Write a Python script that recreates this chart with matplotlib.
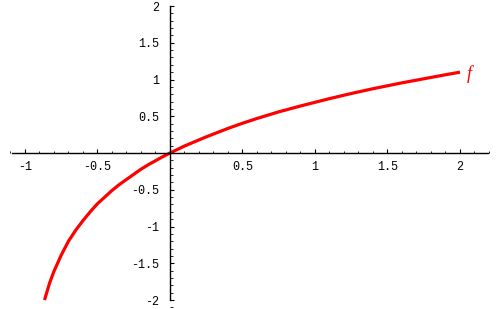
import numpy as np
import matplotlib.pyplot as plt
from matplotlib.ticker import MultipleLocator, FixedLocator

# values
xs = [-0.865, -0.85, -0.83, -0.8, -0.75, -0.7, -0.65, -0.6, -0.55, -0.5, -0.45,
      -0.4, -0.35, -0.3, -0.25, -0.2, -0.15, -0.1, -0.05, 0.0, 0.1, 0.25, 0.4,
      0.5, 0.6, 0.75, 0.9, 1.0, 1.1, 1.25, 1.4, 1.5, 1.6, 1.75, 1.9, 2.0]
ys = [-2.0, -1.9, -1.77, -1.61, -1.39, -1.2, -1.05, -0.92, -0.8, -0.69, -0.6,
      -0.51, -0.43, -0.36, -0.29, -0.22, -0.16, -0.105, -0.05, 0.0, 0.095, 0.22,
      0.335, 0.405, 0.47, 0.56, 0.64, 0.69, 0.74, 0.81, 0.875, 0.915, 0.955,
      1.01, 1.065, 1.1]
curve_label = "f"

xticks = [-1, -0.5, 0.5, 1, 1.5, 2]
xtick_labels = ["-1", "-0.5", "0.5", "1", "1.5", "2"]
yticks = [-2, -1.5, -1, -0.5, 0.5, 1, 1.5, 2]
ytick_labels = ["-2", "-1.5", "-1", "-0.5", "0.5", "1", "1.5", "2"]

fig = plt.figure(figsize=(5, 3.09), dpi=100)
ax = fig.add_axes([0, 0, 1, 1])
ax.set_xlim(-1.172, 2.276)
ax.set_ylim(-2.122, 2.082)

ax.plot(xs, ys, color='red', lw=2.3, solid_capstyle='butt',
        solid_joinstyle='round')
ax.text(xs[-1] + 0.05, ys[-1] - 0.02, curve_label, color='red',
        family='Liberation Serif', style='italic', fontsize=13,
        ha='left', va='center')

for side in ['top', 'right']:
    ax.spines[side].set_visible(False)
ax.spines['left'].set_position(('data', 0))
ax.spines['bottom'].set_position(('data', 0))
ax.spines['left'].set_bounds(-2, 2)
ax.spines['bottom'].set_bounds(-1.09, 2.19)
for side in ['left', 'bottom']:
    ax.spines[side].set_linewidth(1.0)

ax.xaxis.set_major_locator(FixedLocator(xticks))
ax.set_xticklabels(xtick_labels)
ax.yaxis.set_major_locator(FixedLocator(yticks))
ax.set_yticklabels(ytick_labels)
ax.xaxis.set_minor_locator(MultipleLocator(0.1))
ax.yaxis.set_minor_locator(MultipleLocator(0.1))

ax.tick_params(which='major', direction='in', length=3.2, width=0.8,
               labelsize=8.5)
ax.tick_params(axis='x', which='major', pad=6)
ax.tick_params(axis='y', which='major', pad=8)
ax.tick_params(which='minor', direction='in', length=1.8, width=0.6)
for lbl in ax.get_xticklabels() + ax.get_yticklabels():
    lbl.set_family('Liberation Mono')

fig.savefig('out.png', dpi=100)
